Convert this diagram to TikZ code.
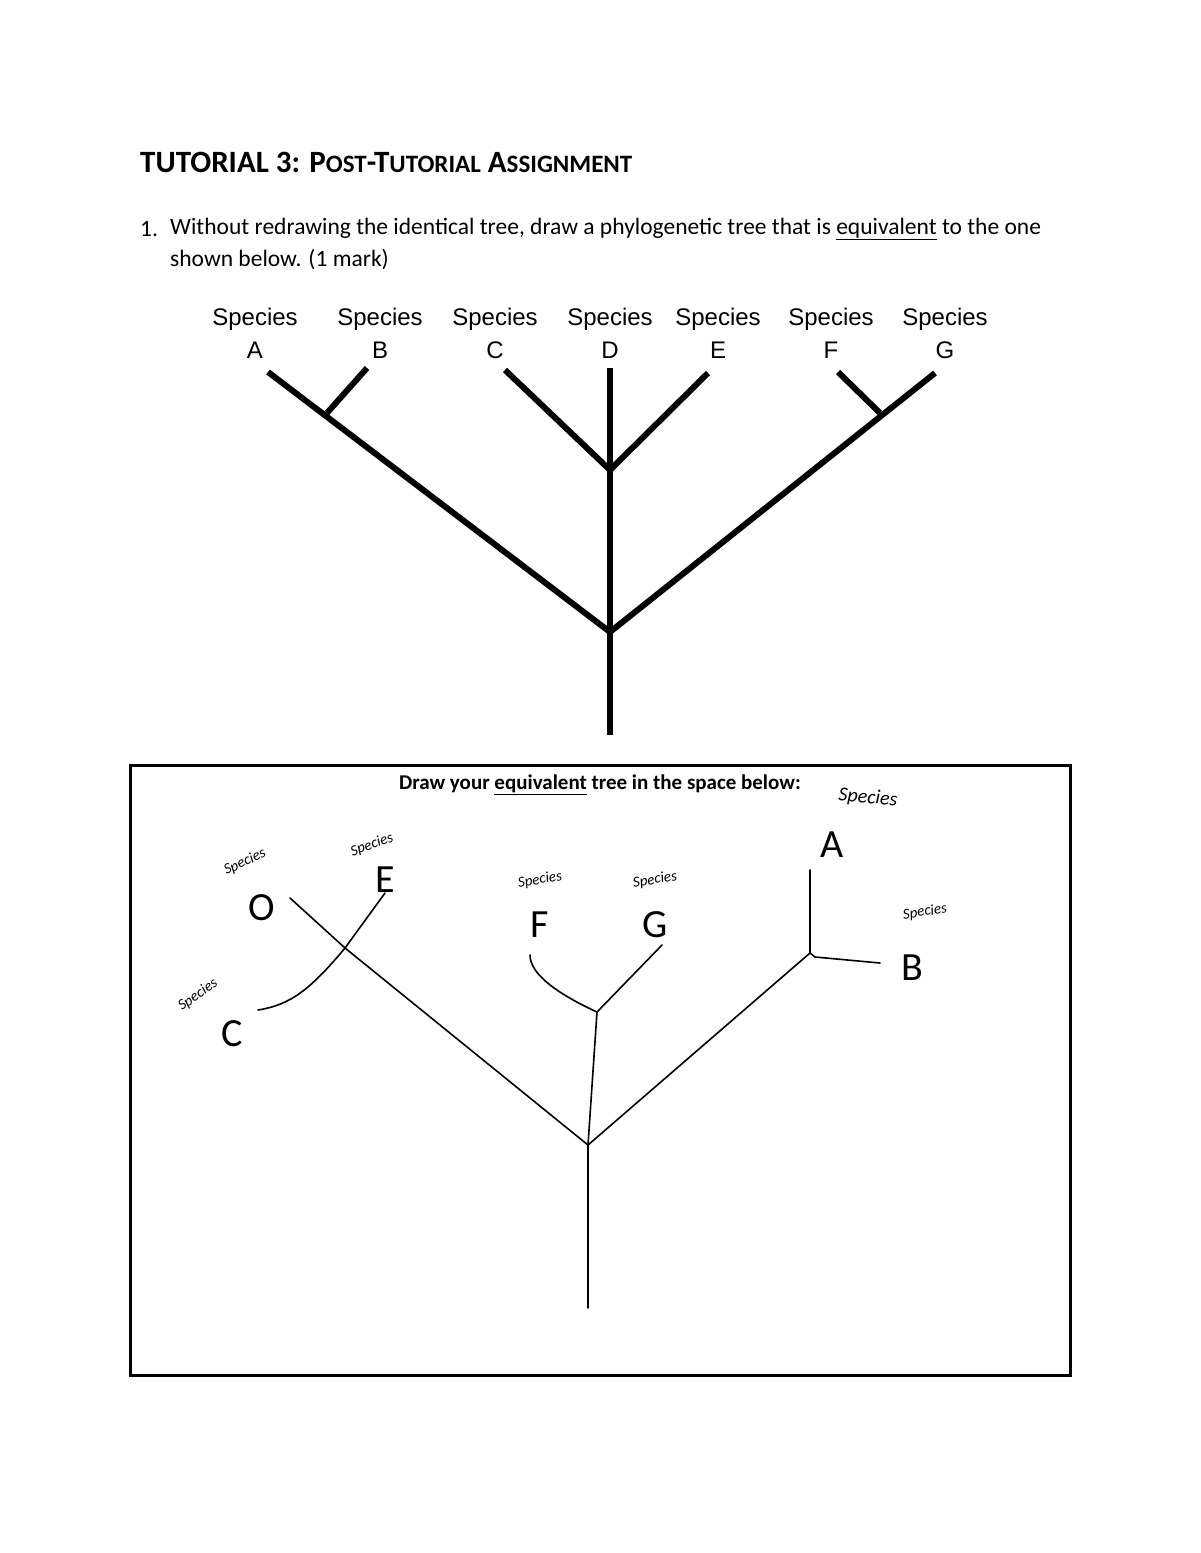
\documentclass[tikz,border=0pt]{standalone}
\usepackage{fontspec}
\setmainfont{Carlito}
\newfontfamily\arialf{Liberation Sans}
\newcommand{\fsc}[1]{{\fontsize{25}{25}\selectfont #1}}
\begin{document}
\begin{tikzpicture}[x=1pt,y=-1pt,
  thick/.style={line width=6pt},
  hand/.style={line width=1.6pt,line cap=round},
  lab/.style={font=\arialf\fontsize{24}{24}\selectfont,anchor=center,inner sep=0},
  hw/.style={font=\itshape\fontsize{15}{15}\selectfont,inner sep=0},
  hwl/.style={font=\fontsize{40}{40}\selectfont,inner sep=0}]
\useasboundingbox[fill=white] (0,0) rectangle (1200,1553);
\node[anchor=west,inner sep=0,font=\bfseries\fontsize{31}{31}\selectfont] (title) at (140,162) {TUTORIAL 3: P\fsc{OST}-T\fsc{UTORIAL} A\fsc{SSIGNMENT}};
\node[anchor=west,inner sep=0,font=\fontsize{23.5}{23.5}\selectfont] (q1) at (140,229) {1.};
\node[anchor=west,inner sep=0,font=\fontsize{23.5}{23.5}\selectfont] (q2) at (170,229) {Without redrawing the identical tree, draw a phylogenetic tree that is \underline{equivalent} to the one};
\node[anchor=west,inner sep=0,font=\fontsize{23.5}{23.5}\selectfont] (q3) at (170,260) {shown below. (1 mark)};
\foreach \x/\l in {255/A,380/B,495/C,610/D,718/E,831/F,945/G}{
  \node[lab] (s\l) at (\x,319) {Species};
  \node[lab] (l\l) at (\x,350) {\l};}
\coordinate (tA) at (268,372); \coordinate (tB) at (367,368);
\coordinate (tC) at (505,370); \coordinate (tD) at (610,368);
\coordinate (tE) at (708,373); \coordinate (tF) at (838,372);
\coordinate (tG) at (935,373); \coordinate (r) at (610,632);
\coordinate (nAB) at (327,413); \coordinate (nCDE) at (610,470);
\coordinate (nFG) at (880,413); \coordinate (base) at (610,735);
\draw[thick] (tA)--(r)--(tG); \draw[thick] (tB)--(nAB);
\draw[thick] (tF)--(nFG); \draw[thick] (tD)--(base);
\draw[thick] (tC)--(nCDE)--(tE);
\draw[line width=3pt] (130,765) rectangle (1070,1375);
\node[inner sep=0,font=\bfseries\fontsize{21}{21}\selectfont] (hdr) at (600,785) {Draw your \underline{equivalent} tree in the space below:};
% hand tree
\coordinate (hr) at (588,1145); \coordinate (hb) at (588,1308);
\coordinate (h1) at (345,948); \coordinate (h2) at (597,1012); \coordinate (h3) at (810,953);
\draw[hand] (hb)--(hr)--(h1); \draw[hand] (hr)--(h2); \draw[hand] (hr)--(h3);
\draw[hand] (h1)--(290,898); \draw[hand] (h1)--(385,893);
\draw[hand] (h1) .. controls (310,990) and (290,1005) .. (258,1010);
\draw[hand] (h2) .. controls (560,995) and (530,975) .. (530,955);
\draw[hand] (h2)--(662,945);
\draw[hand] (h3)--(810,870); \draw[hand] (h3) -- (815,957)--(880,963);
\node[hw,rotate=25] (wD) at (245,862) {Species}; \node[hwl] (hD) at (262,908) {O};
\node[hw,rotate=20] (wE) at (372,845) {Species}; \node[hwl] (hE) at (385,880) {E};
\node[hw,rotate=35] (wC) at (198,995) {Species}; \node[hwl] (hC) at (232,1034) {C};
\node[hw,rotate=10] (wF) at (540,880) {Species}; \node[hwl] (hF) at (540,925) {F};
\node[hw,rotate=10] (wG) at (655,880) {Species}; \node[hwl] (hG) at (655,925) {G};
\node[hw,rotate=-5,font=\itshape\fontsize{20}{20}\selectfont] (wA) at (868,798) {Species}; \node[hwl] (hA) at (832,845) {A};
\node[hw,rotate=8] (wB) at (925,912) {Species}; \node[hwl] (hB) at (912,968) {B};
\end{tikzpicture}
\end{document}
